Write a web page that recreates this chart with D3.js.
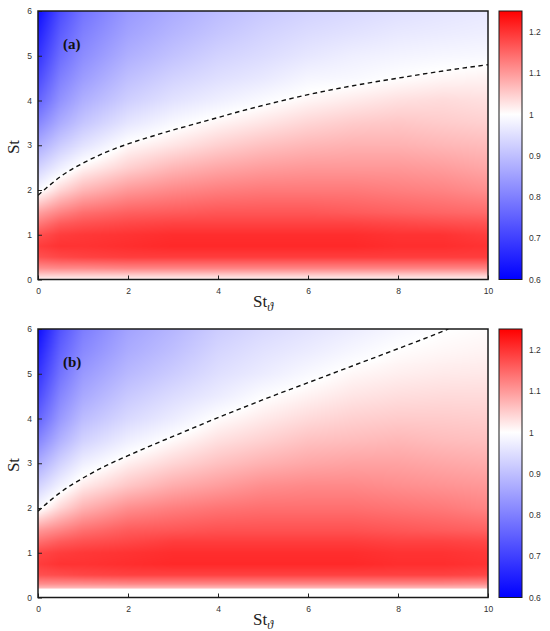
<!DOCTYPE html>
<html>
<head>
<meta charset="utf-8">
<script src="https://cdn.jsdelivr.net/npm/d3@7"></script>
<style>
	body { margin: 0; background: #fff; }
	svg { display: block; }
</style>
</head>
<body>
<div id="chart"></div>
<script>
// Grid columns (St_theta) shared by both panels
const stThetaCols = [0, 0.5, 1, 2, 3, 4, 5, 6, 7, 8, 9, 10];

// Panel (a): St rows and values, one array per St_theta column
const stRowsA = [0, 0.1, 0.25, 0.5, 0.75, 1, 1.25, 1.5, 2, 2.5, 3, 3.5, 4, 4.5, 5, 5.5, 6];
const valuesA = [
	[1.01, 1.05, 1.11, 1.17, 1.19, 1.17, 1.13, 1.09, 0.99, 0.93, 0.87, 0.81, 0.755, 0.715, 0.68, 0.65, 0.62],
	[1.01, 1.05, 1.115, 1.18, 1.2, 1.19, 1.16, 1.12, 1.04, 0.975, 0.92, 0.87, 0.83, 0.8, 0.77, 0.745, 0.72],
	[1.01, 1.05, 1.115, 1.185, 1.2, 1.195, 1.17, 1.14, 1.07, 1.01, 0.955, 0.91, 0.875, 0.845, 0.82, 0.8, 0.78],
	[1.01, 1.05, 1.12, 1.19, 1.205, 1.2, 1.18, 1.155, 1.1, 1.045, 1.005, 0.96, 0.925, 0.9, 0.875, 0.855, 0.84],
	[1.01, 1.05, 1.12, 1.19, 1.21, 1.205, 1.185, 1.16, 1.115, 1.07, 1.025, 0.99, 0.955, 0.93, 0.905, 0.885, 0.87],
	[1.01, 1.05, 1.12, 1.19, 1.21, 1.205, 1.185, 1.165, 1.125, 1.085, 1.045, 1.01, 0.975, 0.95, 0.93, 0.91, 0.895],
	[1.01, 1.05, 1.12, 1.19, 1.21, 1.205, 1.185, 1.165, 1.13, 1.095, 1.06, 1.025, 0.993, 0.965, 0.945, 0.93, 0.915],
	[1.01, 1.05, 1.12, 1.19, 1.21, 1.205, 1.185, 1.165, 1.13, 1.1, 1.07, 1.04, 1.009, 0.985, 0.962, 0.945, 0.93],
	[1.01, 1.05, 1.12, 1.19, 1.21, 1.205, 1.185, 1.16, 1.13, 1.1, 1.075, 1.05, 1.02, 0.99, 0.975, 0.955, 0.94],
	[1.01, 1.05, 1.12, 1.19, 1.205, 1.2, 1.18, 1.155, 1.125, 1.1, 1.075, 1.055, 1.03, 1.0, 0.982, 0.965, 0.95],
	[1.01, 1.05, 1.12, 1.19, 1.205, 1.2, 1.175, 1.15, 1.12, 1.095, 1.07, 1.05, 1.035, 1.008, 0.987, 0.97, 0.958],
	[1.01, 1.05, 1.12, 1.19, 1.2, 1.19, 1.17, 1.145, 1.11, 1.085, 1.065, 1.045, 1.03, 1.012, 0.99, 0.975, 0.965]
];

// Panel (b): data starts at St = 0.2
const stRowsB = [0.2, 0.3, 0.5, 0.75, 1, 1.25, 1.5, 2, 2.5, 3, 3.5, 4, 4.5, 5, 5.5, 6];
const valuesB = [
	[1.06, 1.11, 1.17, 1.19, 1.18, 1.14, 1.1, 0.99, 0.93, 0.87, 0.81, 0.755, 0.715, 0.68, 0.65, 0.62],
	[1.06, 1.11, 1.175, 1.2, 1.19, 1.16, 1.12, 1.04, 0.98, 0.93, 0.88, 0.84, 0.81, 0.78, 0.755, 0.73],
	[1.06, 1.11, 1.18, 1.2, 1.195, 1.17, 1.14, 1.075, 1.02, 0.975, 0.93, 0.895, 0.865, 0.84, 0.815, 0.795],
	[1.06, 1.115, 1.185, 1.205, 1.2, 1.18, 1.16, 1.11, 1.055, 1.015, 0.975, 0.94, 0.915, 0.89, 0.87, 0.855],
	[1.06, 1.115, 1.185, 1.21, 1.205, 1.19, 1.165, 1.125, 1.08, 1.04, 1.005, 0.97, 0.945, 0.92, 0.9, 0.885],
	[1.06, 1.115, 1.185, 1.21, 1.205, 1.19, 1.17, 1.135, 1.095, 1.06, 1.03, 1.002, 0.97, 0.95, 0.935, 0.92],
	[1.06, 1.115, 1.185, 1.21, 1.205, 1.19, 1.17, 1.14, 1.11, 1.075, 1.045, 1.02, 0.997, 0.97, 0.955, 0.94],
	[1.06, 1.115, 1.185, 1.21, 1.205, 1.19, 1.17, 1.14, 1.115, 1.085, 1.06, 1.035, 1.012, 0.99, 0.97, 0.955],
	[1.06, 1.115, 1.185, 1.21, 1.205, 1.19, 1.17, 1.14, 1.115, 1.09, 1.065, 1.045, 1.025, 1.007, 0.987, 0.97],
	[1.06, 1.115, 1.185, 1.205, 1.2, 1.185, 1.165, 1.135, 1.11, 1.09, 1.07, 1.05, 1.032, 1.015, 1.002, 0.986],
	[1.06, 1.115, 1.185, 1.205, 1.2, 1.185, 1.16, 1.13, 1.105, 1.085, 1.065, 1.05, 1.035, 1.02, 1.008, 0.999],
	[1.06, 1.11, 1.18, 1.2, 1.195, 1.18, 1.155, 1.12, 1.1, 1.08, 1.062, 1.048, 1.035, 1.022, 1.012, 1.004]
];

// Dashed curves (value = 1)
const lineAX = [0, 0.25, 0.5, 1, 1.5, 2, 2.5, 3, 3.5, 4, 4.5, 5, 6, 7, 8, 9, 10];
const lineAY = [1.88, 2.1, 2.3, 2.6, 2.84, 3.03, 3.19, 3.34, 3.48, 3.62, 3.76, 3.89, 4.13, 4.33, 4.5, 4.66, 4.8];
const lineBX = [0, 0.25, 0.5, 1, 1.5, 2, 2.5, 3, 3.5, 4, 4.5, 5, 6, 7, 8, 9, 9.12];
const lineBY = [1.93, 2.15, 2.35, 2.67, 2.94, 3.17, 3.39, 3.6, 3.81, 4.02, 4.22, 4.42, 4.8, 5.18, 5.56, 5.95, 6.0];

// Axis ticks
const xTicks = [0, 2, 4, 6, 8, 10];
const yTicks = [0, 1, 2, 3, 4, 5, 6];
const cbTicks = [0.6, 0.7, 0.8, 0.9, 1, 1.1, 1.2];

const W = 550, H = 631;
const left = 38, right = 488, plotH = 268.5;
const panelTops = [11, 329];

const color = d3.scaleLinear()
	.domain([0.6, 1, 1.25])
	.range(["#0000ff", "#ffffff", "#ff0000"])
	.clamp(true);

const svg = d3.select("#chart").append("svg")
	.attr("width", W)
	.attr("height", H);

const defs = svg.append("defs");
const grad = defs.append("linearGradient")
	.attr("id", "cbgrad")
	.attr("x1", 0).attr("y1", 1).attr("x2", 0).attr("y2", 0);
color.domain().forEach(v => {
	grad.append("stop")
		.attr("offset", (v - 0.6) / (1.25 - 0.6))
		.attr("stop-color", color(v));
});

// Bilinear lookup in a non-uniform grid
const lookup = (cols, rows, vals, t, s) => {
	if (s < rows[0] || s > rows[rows.length - 1]) return null;
	let i = Math.max(0, Math.min(cols.length - 2, d3.bisectRight(cols, t) - 1));
	let j = Math.max(0, Math.min(rows.length - 2, d3.bisectRight(rows, s) - 1));
	const ft = Math.max(0, Math.min(1, (t - cols[i]) / (cols[i + 1] - cols[i])));
	const fs = Math.max(0, Math.min(1, (s - rows[j]) / (rows[j + 1] - rows[j])));
	const a = vals[i][j] * (1 - fs) + vals[i][j + 1] * fs;
	const b = vals[i + 1][j] * (1 - fs) + vals[i + 1][j + 1] * fs;
	return a * (1 - ft) + b * ft;
};

const drawPanel = (top, rows, vals, lx, ly, label, id) => {
	const x = d3.scaleLinear().domain([0, 10]).range([left, right]);
	const y = d3.scaleLinear().domain([0, 6]).range([top + plotH, top]);

	// heatmap raster
	const pw = Math.round(right - left), ph = Math.round(plotH);
	const canvas = document.createElement("canvas");
	canvas.width = pw;
	canvas.height = ph;
	const ctx = canvas.getContext("2d");
	const img = ctx.createImageData(pw, ph);
	for (let py = 0; py < ph; py++) {
		const s = y.invert(top + (py + 0.5) * plotH / ph);
		for (let px = 0; px < pw; px++) {
			const t = x.invert(left + px + 0.5);
			const v = lookup(stThetaCols, rows, vals, t, s);
			const k = (py * pw + px) * 4;
			if (v === null) {
				img.data[k] = 255; img.data[k + 1] = 255; img.data[k + 2] = 255; img.data[k + 3] = 255;
				continue;
			}
			const c = d3.rgb(color(v));
			img.data[k] = c.r; img.data[k + 1] = c.g; img.data[k + 2] = c.b; img.data[k + 3] = 255;
		}
	}
	ctx.putImageData(img, 0, 0);

	const g = svg.append("g");
	g.append("image")
		.attr("x", left).attr("y", top)
		.attr("width", right - left).attr("height", plotH)
		.attr("preserveAspectRatio", "none")
		.attr("href", canvas.toDataURL());

	defs.append("clipPath").attr("id", "clip" + id)
		.append("rect")
		.attr("x", left).attr("y", top)
		.attr("width", right - left).attr("height", plotH);

	const line = d3.line()
		.x(d => x(d[0]))
		.y(d => y(d[1]))
		.curve(d3.curveMonotoneX);

	g.append("path")
		.attr("clip-path", "url(#clip" + id + ")")
		.attr("d", line(d3.zip(lx, ly)))
		.attr("fill", "none")
		.attr("stroke", "#111")
		.attr("stroke-width", 1.4)
		.attr("stroke-dasharray", "4.5,3.5");

	// axes with inward ticks
	const xAxis = d3.axisBottom(x).tickValues(xTicks).tickSize(-4).tickPadding(8).tickFormat(d3.format("d"));
	const yAxis = d3.axisLeft(y).tickValues(yTicks).tickSize(-4).tickPadding(6).tickFormat(d3.format("d"));

	const gx = g.append("g").attr("transform", `translate(0,${top + plotH})`).call(xAxis);
	const gy = g.append("g").attr("transform", `translate(${left},0)`).call(yAxis);
	[gx, gy].forEach(a => {
		a.select(".domain").remove();
		a.selectAll(".tick line").attr("stroke", "#222").attr("stroke-width", 1);
		a.selectAll(".tick text")
			.attr("fill", "#333")
			.style("font-family", "'Liberation Sans', Arial, sans-serif")
			.style("font-size", "8.5px");
	});

	g.append("rect")
		.attr("x", left).attr("y", top)
		.attr("width", right - left).attr("height", plotH)
		.attr("fill", "none")
		.attr("stroke", "#1a1a1a")
		.attr("stroke-width", 1.5);

	// axis titles
	const xt = g.append("text")
		.attr("x", 263).attr("y", top + 296)
		.attr("text-anchor", "middle")
		.style("font-family", "'Liberation Serif', 'DejaVu Serif', serif")
		.style("font-size", "17px")
		.attr("fill", "#222");
	xt.append("tspan").text("St");
	xt.append("tspan").attr("dy", 4).style("font-size", "12px").style("font-style", "italic").text("ϑ");

	g.append("text")
		.attr("transform", `translate(19,${top + 136}) rotate(-90)`)
		.attr("text-anchor", "middle")
		.style("font-family", "'Liberation Serif', 'DejaVu Serif', serif")
		.style("font-size", "17px")
		.attr("fill", "#222")
		.text("St");

	g.append("text")
		.attr("x", 63).attr("y", top + 38)
		.style("font-family", "'Liberation Serif', 'DejaVu Serif', serif")
		.style("font-size", "15px")
		.style("font-weight", "bold")
		.attr("fill", "#111")
		.text(label);

	// colorbar
	const cb = d3.scaleLinear().domain([0.6, 1.25]).range([top + plotH, top]);
	g.append("rect")
		.attr("x", 499).attr("y", top)
		.attr("width", 23).attr("height", plotH)
		.attr("fill", "url(#cbgrad)")
		.attr("stroke", "#1a1a1a")
		.attr("stroke-width", 1);
	const cAxis = d3.axisRight(cb).tickValues(cbTicks).tickSize(0).tickPadding(7)
		.tickFormat(d => d3.format("")(+d.toFixed(1)));
	const gc = g.append("g").attr("transform", "translate(522,0)").call(cAxis);
	gc.select(".domain").remove();
	gc.selectAll(".tick text")
		.attr("fill", "#333")
		.style("font-family", "'Liberation Sans', Arial, sans-serif")
		.style("font-size", "8.5px");
};

drawPanel(panelTops[0], stRowsA, valuesA, lineAX, lineAY, "(a)", "a");
drawPanel(panelTops[1], stRowsB, valuesB, lineBX, lineBY, "(b)", "b");
</script>
</body>
</html>
